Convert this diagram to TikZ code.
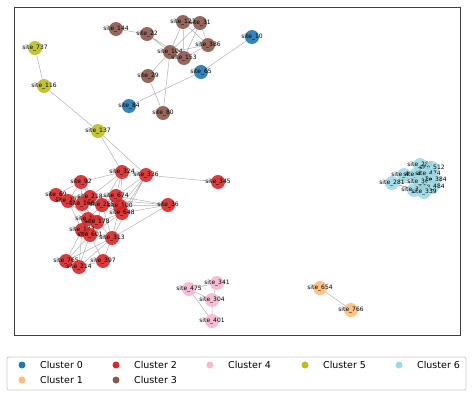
\documentclass[tikz,border=0pt]{standalone}
\usepackage{fontspec}
\setmainfont{DejaVu Sans}
\usetikzlibrary{backgrounds}

\definecolor{clzero}{HTML}{1F77B4}
\definecolor{clone}{HTML}{FFBB78}
\definecolor{cltwo}{HTML}{D62728}
\definecolor{clthree}{HTML}{8C564B}
\definecolor{clfour}{HTML}{F7B6D2}
\definecolor{clfive}{HTML}{BCBD22}
\definecolor{clsix}{HTML}{9EDAE5}

\newcommand{\sname}[1]{\makebox[0pt]{site\_#1}}

\begin{document}
\begin{tikzpicture}[
		x=1pt, y=-1pt,
		site/.style={circle, fill=#1, fill opacity=0.9, text opacity=1, minimum size=14pt, inner sep=0pt, font=\fontsize{6}{7}\selectfont},
		edge/.style={draw=black!30, line width=0.5pt},
		key/.style={circle, fill=#1, minimum size=7pt, inner sep=0pt},
		keytext/.style={anchor=west, inner sep=0pt, font=\fontsize{9.5}{11}\selectfont},
	]
		\useasboundingbox (0,0) rectangle (474,397);
		\draw[black!75, line width=0.9pt] (14,7) rectangle (460,335);

		% cluster 3
		\node (b1) [site=clthree] at (116,29) {\sname{144}};
		\node (b2) [site=clthree] at (147,34) {\sname{22}};
		\node (b3) [site=clthree] at (183,22) {\sname{123}};
		\node (b4) [site=clthree] at (200,23) {\sname{31}};
		\node (b5) [site=clthree] at (208,45) {\sname{386}};
		\node (b6) [site=clthree] at (170,52) {\sname{104}};
		\node (b7) [site=clthree] at (184,58) {\sname{153}};
		\node (b8) [site=clthree] at (148,76) {\sname{29}};
		\node (b9) [site=clthree] at (163,113) {\sname{80}};
		% cluster 0
		\node (o1) [site=clzero] at (252,37) {\sname{10}};
		\node (o2) [site=clzero] at (201,72) {\sname{65}};
		\node (o3) [site=clzero] at (129,106) {\sname{84}};
		% cluster 5
		\node (y1) [site=clfive] at (35,48) {\sname{737}};
		\node (y2) [site=clfive] at (44,86) {\sname{116}};
		\node (y3) [site=clfive] at (98,131) {\sname{137}};
		% cluster 2
		\node (r1) [site=cltwo] at (122,172) {\sname{324}};
		\node (r2) [site=cltwo] at (146,175) {\sname{336}};
		\node (r3) [site=cltwo] at (218,182) {\sname{345}};
		\node (r4) [site=cltwo] at (81,182) {\sname{92}};
		\node (r5) [site=cltwo] at (56,195) {\sname{69}};
		\node (r6) [site=cltwo] at (68,201) {\sname{271}};
		\node (r7) [site=cltwo] at (90,197) {\sname{218}};
		\node (r8) [site=cltwo] at (116,196) {\sname{674}};
		\node (r9) [site=cltwo] at (82,204) {\sname{166}};
		\node (r10) [site=cltwo] at (102,205) {\sname{255}};
		\node (r11) [site=cltwo] at (120,206) {\sname{100}};
		\node (r12) [site=cltwo] at (122,213) {\sname{648}};
		\node (r13) [site=cltwo] at (88,219) {\sname{128}};
		\node (r14) [site=cltwo] at (97,222) {\sname{178}};
		\node (r15) [site=cltwo] at (82,230) {\sname{143}};
		\node (r16) [site=cltwo] at (90,235) {\sname{601}};
		\node (r17) [site=cltwo] at (112,238) {\sname{313}};
		\node (r18) [site=cltwo] at (66,261) {\sname{765}};
		\node (r19) [site=cltwo] at (79,267) {\sname{214}};
		\node (r20) [site=cltwo] at (103,261) {\sname{397}};
		\node (r21) [site=cltwo] at (168,205) {\sname{36}};
		% cluster 6
		\node (c1) [site=clsix] at (420,165) {\sname{285}};
		\node (c2) [site=clsix] at (432,168) {\sname{512}};
		\node (c3) [site=clsix] at (404,175) {\sname{458}};
		\node (c4) [site=clsix] at (416,175) {\sname{438}};
		\node (c5) [site=clsix] at (428,174) {\sname{474}};
		\node (c6) [site=clsix] at (434,180) {\sname{384}};
		\node (c7) [site=clsix] at (392,183) {\sname{281}};
		\node (c8) [site=clsix] at (420,182) {\sname{367}};
		\node (c9) [site=clsix] at (432,187) {\sname{484}};
		\node (c10) [site=clsix] at (414,190) {\sname{386}};
		\node (c11) [site=clsix] at (424,192) {\sname{339}};
		% cluster 4
		\node (p1) [site=clfour] at (217,283) {\sname{341}};
		\node (p2) [site=clfour] at (189,289) {\sname{475}};
		\node (p3) [site=clfour] at (212,300) {\sname{304}};
		\node (p4) [site=clfour] at (212,321) {\sname{401}};
		% cluster 1
		\node (g1) [site=clone] at (320,288) {\sname{654}};
		\node (g2) [site=clone] at (351,310) {\sname{766}};

		\begin{scope}[on background layer]
			\draw[edge] (b1) -- (b2) (b2) -- (b6) (b2) -- (b7) (b3) -- (b6) (b3) -- (b7) (b3) -- (b5)
				(b4) -- (b6) (b4) -- (b7) (b4) -- (b5) (b5) -- (b6) (b5) -- (b7) (b6) -- (b8)
				(b6) -- (b9) (b8) -- (b9);
			\draw[edge] (o1) -- (o2) (o2) -- (o3);
			\draw[edge] (y1) -- (y2) (y2) -- (y3) (y3) -- (r1) (y3) -- (r2);
			\draw[edge] (r1) -- (r2) (r1) -- (r4) (r1) -- (r7) (r1) -- (r8) (r1) -- (r10) (r1) -- (r11)
				(r2) -- (r3) (r2) -- (r8) (r2) -- (r11) (r2) -- (r12) (r2) -- (r17)
				(r4) -- (r5) (r4) -- (r6) (r4) -- (r7) (r4) -- (r9) (r4) -- (r10)
				(r5) -- (r6) (r5) -- (r9) (r5) -- (r7) (r5) -- (r21)
				(r6) -- (r9) (r6) -- (r13) (r6) -- (r15)
				(r7) -- (r8) (r7) -- (r9) (r7) -- (r10) (r7) -- (r11)
				(r8) -- (r10) (r8) -- (r11) (r8) -- (r12) (r8) -- (r21)
				(r9) -- (r10) (r9) -- (r13) (r9) -- (r14)
				(r10) -- (r11) (r10) -- (r12) (r10) -- (r13) (r10) -- (r14) (r10) -- (r17)
				(r11) -- (r12) (r11) -- (r21) (r11) -- (r17)
				(r12) -- (r21) (r12) -- (r14) (r12) -- (r16)
				(r13) -- (r14) (r13) -- (r15) (r13) -- (r16)
				(r14) -- (r16) (r14) -- (r17)
				(r15) -- (r16) (r15) -- (r18) (r15) -- (r19)
				(r16) -- (r17) (r16) -- (r19) (r16) -- (r20)
				(r17) -- (r21) (r17) -- (r18) (r17) -- (r19) (r17) -- (r20)
				(r18) -- (r19) (r18) -- (r16) (r19) -- (r20);
			\draw[edge] (c7) -- (c3) (c7) -- (c4) (c7) -- (c8) (c7) -- (c10) (c7) -- (c11) (c7) -- (c5)
				(c3) -- (c4) (c4) -- (c5) (c1) -- (c2) (c1) -- (c5) (c5) -- (c6) (c8) -- (c9)
				(c9) -- (c11) (c10) -- (c11) (c4) -- (c8) (c2) -- (c6) (c6) -- (c9) (c3) -- (c10);
			\draw[edge] (p2) -- (p1) (p2) -- (p3) (p2) -- (p4) (p1) -- (p3) (p3) -- (p4);
			\draw[edge] (g1) -- (g2);
		\end{scope}

		% legend
		\node (legend) [draw=black!20, rounded corners=2pt, line width=0.8pt, minimum width=459pt, minimum height=33pt, inner sep=0pt] at (236.5,373.5) {};
		\node (k0) [key=clzero] at (22,365) {};
		\node (t0) [keytext] at (40,365) {Cluster 0};
		\node (k1) [key=clone] at (22,380) {};
		\node (t1) [keytext] at (40,380) {Cluster 1};
		\node (k2) [key=cltwo] at (116,365) {};
		\node (t2) [keytext] at (134,365) {Cluster 2};
		\node (k3) [key=clthree] at (116,380) {};
		\node (t3) [keytext] at (134,380) {Cluster 3};
		\node (k4) [key=clfour] at (210,365) {};
		\node (t4) [keytext] at (228,365) {Cluster 4};
		\node (k5) [key=clfive] at (305,365) {};
		\node (t5) [keytext] at (323,365) {Cluster 5};
		\node (k6) [key=clsix] at (399,365) {};
		\node (t6) [keytext] at (417,365) {Cluster 6};
	\end{tikzpicture}
\end{document}
